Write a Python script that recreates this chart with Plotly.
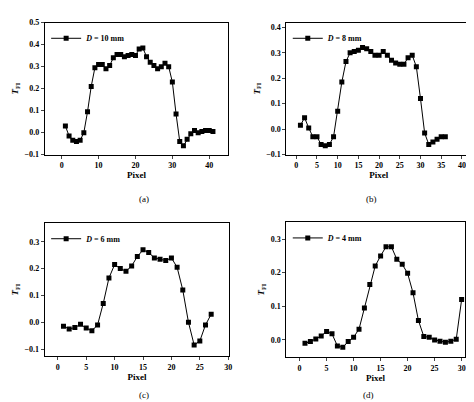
import plotly.graph_objects as go

ya = [0.03,-0.015,-0.035,-0.04,-0.035,0.0,0.095,0.21,0.295,0.31,0.31,0.29,0.305,0.34,0.355,0.355,0.345,0.35,0.355,0.35,0.38,0.385,0.345,0.32,0.305,0.29,0.30,0.315,0.30,0.23,0.085,-0.04,-0.06,-0.03,-0.005,0.01,0.0,0.005,0.01,0.01,0.005]
yb = [0.015,0.045,0.005,-0.03,-0.03,-0.06,-0.065,-0.06,-0.03,0.07,0.185,0.265,0.30,0.305,0.31,0.32,0.315,0.305,0.29,0.29,0.305,0.29,0.27,0.26,0.255,0.255,0.28,0.29,0.245,0.12,-0.015,-0.06,-0.05,-0.04,-0.03,-0.03]
yc = [-0.015,-0.025,-0.02,-0.008,-0.022,-0.032,-0.01,0.07,0.165,0.215,0.20,0.19,0.21,0.245,0.27,0.26,0.24,0.235,0.23,0.24,0.205,0.12,0.0,-0.085,-0.07,-0.01,0.03]
yd = [-0.01,-0.005,0.003,0.012,0.025,0.018,-0.018,-0.022,-0.005,0.008,0.032,0.095,0.165,0.22,0.25,0.277,0.277,0.24,0.225,0.198,0.14,0.058,0.01,0.008,0.0,-0.004,-0.007,-0.004,0.002,0.12]
names = ["<b><i>D</i> = 10 mm</b>", "<b><i>D</i> = 8 mm</b>", "<b><i>D</i> = 6 mm</b>", "<b><i>D</i> = 4 mm</b>"]
labels = ["(a)", "(b)", "(c)", "(d)"]

FONT = "Liberation Serif"
panels = [
    dict(y=ya, xd=[0.078,0.468], yd=[0.637,0.973], xr=[-4.6,45.2], yr=[-0.1,0.5], xt=10, yt=0.1),
    dict(y=yb, xd=[0.591,0.983], yd=[0.637,0.973], xr=[-2.4,42.2], yr=[-0.1,0.418], xt=5, yt=0.1),
    dict(y=yc, xd=[0.078,0.470], yd=[0.124,0.463], xr=[-2.3,30.2], yr=[-0.127,0.37], xt=5, yt=0.1),
    dict(y=yd, xd=[0.591,0.970], yd=[0.122,0.465], xr=[-2.45,30.6], yr=[-0.051,0.35], xt=5, yt=0.1),
]
fig = go.Figure()
layout = dict(width=474, height=402, margin=dict(l=0, r=0, t=0, b=0),
              paper_bgcolor="white", plot_bgcolor="white",
              font=dict(family=FONT, size=9, color="black"), annotations=[])
for i, p in enumerate(panels):
    n = "" if i == 0 else str(i + 1)
    lg = "legend" + n
    fig.add_trace(go.Scatter(x=list(range(1, len(p["y"]) + 1)), y=p["y"], mode="lines+markers",
                             name=names[i], line=dict(color="black", width=1),
                             marker=dict(symbol="square", size=5, color="black"),
                             xaxis="x" + n, yaxis="y" + n, legend=lg))
    ax = dict(showline=True, mirror=True, linecolor="black", linewidth=1, ticks="outside",
              ticklen=3, showgrid=False, zeroline=False,
              tickfont=dict(family=FONT, size=8, color="black", weight="bold"))
    layout["xaxis" + n] = dict(ax, domain=p["xd"], range=p["xr"], dtick=p["xt"], tick0=0,
                               anchor="y" + n,
                               title=dict(text="<b>Pixel</b>", standoff=0, font=dict(size=9)))
    layout["yaxis" + n] = dict(ax, domain=p["yd"], range=p["yr"], dtick=p["yt"], tick0=0,
                               tickformat=".1f", anchor="x" + n,
                               title=dict(text="<b><i>T</i><sub>FI</sub></b>", standoff=4, font=dict(size=9)))
    layout[lg] = dict(x=p["xd"][0] + 0.003, y=p["yd"][1] - 0.003, xanchor="left", yanchor="top",
                      bgcolor="rgba(0,0,0,0)", font=dict(family=FONT, size=8, color="black"),
                      itemwidth=30, tracegroupgap=0)
    xm = (p["xd"][0] + p["xd"][1]) / 2
    yl = 0.525 if i < 2 else 0.025
    layout["annotations"].append(dict(text=labels[i], x=xm, y=yl, xref="paper", yref="paper",
                                      yanchor="middle", showarrow=False,
                                      font=dict(family=FONT, size=9, color="black")))
fig.update_layout(**layout)
fig.update_layout(showlegend=True)
fig.write_html("out.html")
